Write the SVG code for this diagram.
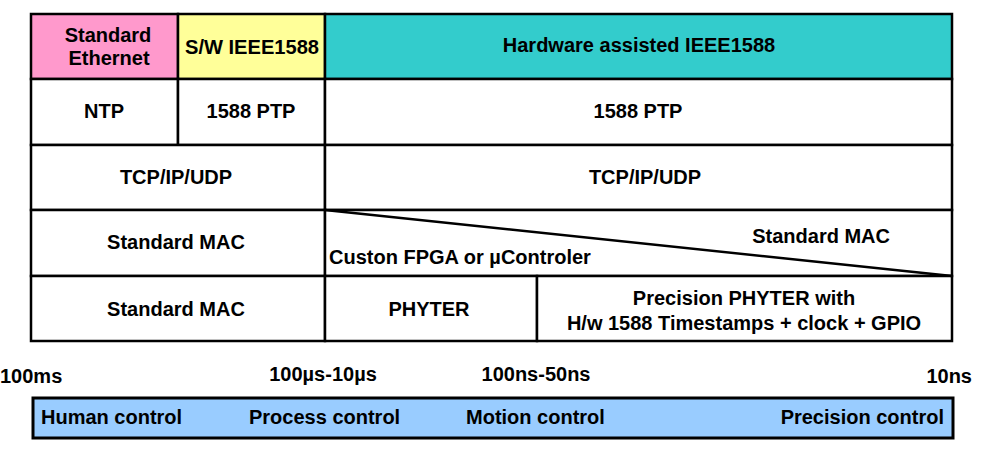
<svg xmlns="http://www.w3.org/2000/svg" width="992" height="458" viewBox="0 0 992 458">
<style>
text{font-family:"Liberation Sans",Arial,sans-serif;font-weight:bold;font-size:20px;fill:#000}
.c{text-anchor:middle}
.e{text-anchor:end}
.cell{stroke:#000;stroke-width:2.5}
.ln{stroke:#000;stroke-width:2.5;fill:none}
</style>
<rect width="992" height="458" fill="#fff"/>
<g id="n-std-eth"><rect class="cell" x="31" y="14" width="147" height="65" fill="#FF99CC"/><text class="c" x="108" y="42">Standard</text><text class="c" x="109" y="65">Ethernet</text></g>
<g id="n-sw"><rect class="cell" x="178" y="14" width="147" height="65" fill="#FFFF99"/><text class="c" x="252" y="54" textLength="134" lengthAdjust="spacingAndGlyphs">S/W IEEE1588</text></g>
<g id="n-hw"><rect class="cell" x="325" y="14" width="627" height="65" fill="#33CCCC"/><text class="c" x="639" y="52">Hardware assisted IEEE1588</text></g>
<g id="n-ntp"><rect class="cell" x="31" y="79" width="147" height="66" fill="#fff"/><text class="c" x="104" y="118">NTP</text></g>
<g id="n-ptp1"><rect class="cell" x="178" y="79" width="147" height="66" fill="#fff"/><text class="c" x="251" y="118">1588 PTP</text></g>
<g id="n-ptp2"><rect class="cell" x="325" y="79" width="627" height="66" fill="#fff"/><text class="c" x="638" y="118">1588 PTP</text></g>
<g id="n-tcp1"><rect class="cell" x="31" y="145" width="294" height="65" fill="#fff"/><text class="c" x="176" y="184">TCP/IP/UDP</text></g>
<g id="n-tcp2"><rect class="cell" x="325" y="145" width="627" height="65" fill="#fff"/><text class="c" x="645" y="184">TCP/IP/UDP</text></g>
<g id="n-mac1"><rect class="cell" x="31" y="210" width="294" height="66" fill="#fff"/><text class="c" x="176" y="249">Standard MAC</text></g>
<g id="n-mac2"><rect class="cell" x="325" y="210" width="627" height="66" fill="#fff"/><text class="e" x="890" y="243">Standard MAC</text><text x="329" y="264">Custon FPGA or µControler</text></g>
<g id="n-mac3"><rect class="cell" x="31" y="276" width="294" height="65" fill="#fff"/><text class="c" x="176" y="316">Standard MAC</text></g>
<g id="n-phyter"><rect class="cell" x="325" y="276" width="212" height="65" fill="#fff"/><text class="c" x="429" y="316">PHYTER</text></g>
<g id="n-pphyter"><rect class="cell" x="537" y="276" width="415" height="65" fill="#fff"/><text class="c" x="744" y="305">Precision PHYTER with</text><text class="c" x="744" y="330">H/w 1588 Timestamps + clock + GPIO</text></g>
<g id="connectors"><line class="ln" x1="325" y1="210" x2="952" y2="276"/></g>
<g id="timeline">
<text x="0" y="383">100ms</text>
<text class="c" x="323" y="381">100µs-10µs</text>
<text class="c" x="536" y="381">100ns-50ns</text>
<text class="e" x="972" y="383">10ns</text>
</g>
<g id="n-bar"><rect x="33" y="398" width="920" height="40" fill="#99CCFF" stroke="#000" stroke-width="3"/>
<text x="41" y="424">Human control</text>
<text x="249" y="424">Process control</text>
<text x="466" y="424">Motion control</text>
<text class="e" x="944" y="424">Precision control</text></g>
</svg>
